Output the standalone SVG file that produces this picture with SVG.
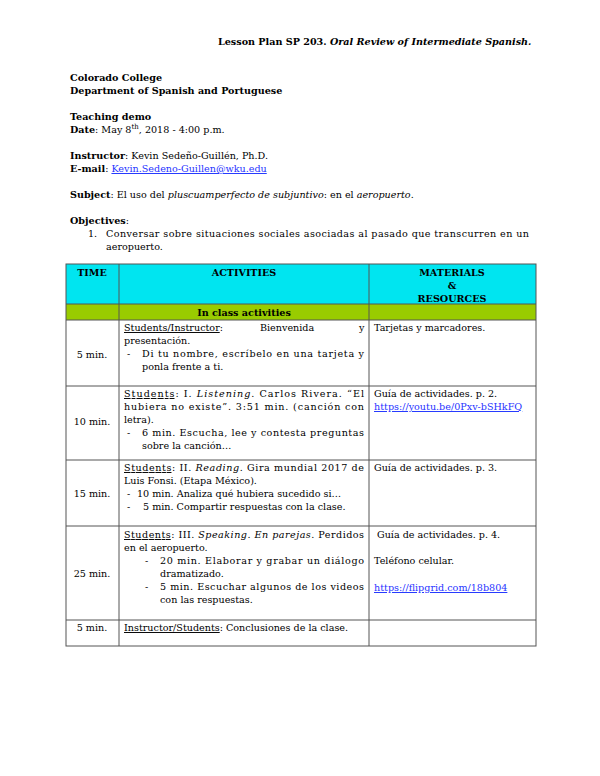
<svg xmlns="http://www.w3.org/2000/svg" width="600" height="776" viewBox="0 0 600 776">
<style>
text{font-family:"DejaVu Serif","Liberation Serif",serif;font-size:9.6px;fill:#000}
.b{font-weight:bold}.i{font-style:italic}.c{text-anchor:middle}
.l{fill:#1f33ff;text-decoration:underline}
.g{stroke:#555;stroke-width:1;fill:none}
</style>
<rect width="600" height="776" fill="#fff"/>
<g id="header">
<text x="218" y="45"><tspan class="b">Lesson Plan SP 203. </tspan><tspan class="b i">Oral Review of Intermediate Spanish.</tspan></text>
<text x="70" y="81" class="b">Colorado College</text>
<text x="70" y="94" class="b">Department of Spanish and Portuguese</text>
<text x="70" y="120" class="b">Teaching demo</text>
<text x="70" y="133"><tspan class="b">Date</tspan>: May 8<tspan font-size="7" dy="-4">th</tspan><tspan dy="4">, 2018 - 4:00 p.m.</tspan></text>
<text x="70" y="159"><tspan class="b">Instructor</tspan>: Kevin Sedeño-Guillén, Ph.D.</text>
<text x="70" y="172"><tspan class="b">E-mail</tspan>: <tspan class="l">Kevin.Sedeno-Guillen@wku.edu</tspan></text>
<text x="70" y="198"><tspan class="b">Subject</tspan>: El uso del <tspan class="i">pluscuamperfecto de subjuntivo</tspan>: en el <tspan class="i">aeropuerto</tspan>.</text>
<text x="70" y="224" class="b">Objectives<tspan font-weight="normal">:</tspan></text>
<text x="88" y="237">1.</text>
<text x="106" y="237" textLength="423" lengthAdjust="spacing">Conversar sobre situaciones sociales asociadas al pasado que transcurren en un</text>
<text x="106" y="250">aeropuerto.</text>
</g>
<g id="table">
<rect x="66" y="264" width="470" height="40" fill="#00e5f0"/>
<rect x="66" y="304" width="470" height="16" fill="#99cc00"/>
<g class="g">
<rect x="66" y="264" width="470" height="382"/>
<line x1="119" y1="264" x2="119" y2="646"/>
<line x1="369" y1="264" x2="369" y2="646"/>
<line x1="66" y1="304" x2="536" y2="304"/>
<line x1="66" y1="320" x2="536" y2="320"/>
<line x1="66" y1="386" x2="536" y2="386"/>
<line x1="66" y1="460" x2="536" y2="460"/>
<line x1="66" y1="526" x2="536" y2="526"/>
<line x1="66" y1="620" x2="536" y2="620"/>
</g>
<text x="92" y="276" class="b c">TIME</text>
<text x="244" y="276" class="b c">ACTIVITIES</text>
<text x="452" y="276" class="b c">MATERIALS</text>
<text x="452" y="289" class="b c">&amp;</text>
<text x="452" y="302" class="b c">RESOURCES</text>
<text x="244" y="316" class="b c">In class activities</text>
</g>
<g id="row1">
<text x="92" y="358" class="c">5 min.</text>
<text x="124" y="331"><tspan text-decoration="underline">Students/Instructor</tspan>:</text>
<text x="260" y="331">Bienvenida</text><text x="359" y="331">y</text>
<text x="124" y="344">presentación.</text>
<text x="127" y="357">-</text>
<text x="142" y="357" textLength="222" lengthAdjust="spacing">Di tu nombre, escríbelo en una tarjeta y</text>
<text x="142" y="370">ponla frente a ti.</text>
<text x="374" y="331">Tarjetas y marcadores.</text>
</g>
<g id="row2">
<text x="92" y="425" class="c">10 min.</text>
<text x="124" y="397" textLength="240" lengthAdjust="spacing"><tspan text-decoration="underline">Students</tspan>: I. <tspan class="i">Listening</tspan>. Carlos Rivera. “El</text>
<text x="124" y="410" textLength="240" lengthAdjust="spacing">hubiera no existe”. 3:51 min. (canción con</text>
<text x="124" y="423">letra).</text>
<text x="127" y="436">-</text>
<text x="142" y="436" textLength="222" lengthAdjust="spacing">6 min. Escucha, lee y contesta preguntas</text>
<text x="142" y="449">sobre la canción…</text>
<text x="374" y="397">Guía de actividades. p. 2.</text>
<text x="374" y="410" class="l">https://youtu.be/0Pxv-bSHkFQ</text>
</g>
<g id="row3">
<text x="92" y="497" class="c">15 min.</text>
<text x="124" y="471" textLength="240" lengthAdjust="spacing"><tspan text-decoration="underline">Students</tspan>: II. <tspan class="i">Reading</tspan>. Gira mundial 2017 de</text>
<text x="124" y="484">Luis Fonsi. (Etapa México).</text>
<text x="127" y="497">-</text><text x="137" y="497">10 min. Analiza qué hubiera sucedido si…</text>
<text x="127" y="510">-</text><text x="143" y="510">5 min. Compartir respuestas con la clase.</text>
<text x="374" y="471">Guía de actividades. p. 3.</text>
</g>
<g id="row4">
<text x="92" y="577" class="c">25 min.</text>
<text x="124" y="538" textLength="240" lengthAdjust="spacing"><tspan text-decoration="underline">Students</tspan>: III. <tspan class="i">Speaking</tspan>. <tspan class="i">En parejas</tspan>. Perdidos</text>
<text x="124" y="551">en el aeropuerto.</text>
<text x="145" y="564">-</text>
<text x="160" y="564" textLength="204" lengthAdjust="spacing">20 min. Elaborar y grabar un diálogo</text>
<text x="160" y="577">dramatizado.</text>
<text x="145" y="590">-</text>
<text x="160" y="590" textLength="204" lengthAdjust="spacing">5 min. Escuchar algunos de los videos</text>
<text x="160" y="603">con las respuestas.</text>
<text x="377" y="538">Guía de actividades. p. 4.</text>
<text x="374" y="564">Teléfono celular.</text>
<text x="374" y="591" class="l">https://flipgrid.com/18b804</text>
</g>
<g id="row5">
<text x="92" y="631" class="c">5 min.</text>
<text x="124" y="631"><tspan text-decoration="underline">Instructor/Students</tspan>: Conclusiones de la clase.</text>
</g>
</svg>
